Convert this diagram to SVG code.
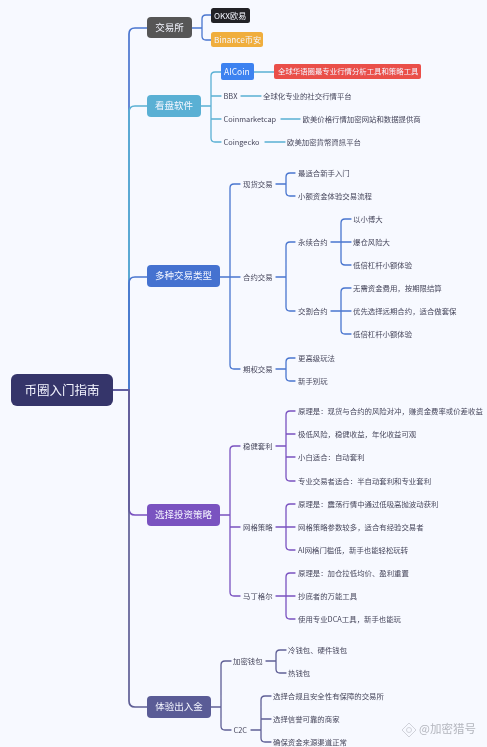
<svg xmlns="http://www.w3.org/2000/svg" width="487" height="747" viewBox="0 0 487 747">
<style>
text{font-family:"Noto Sans CJK SC","Noto Sans",sans-serif;font-size:7.4px;fill:#47475c;dominant-baseline:central;transform:translateY(-.7px)}
.m{font-size:9.500px;fill:#f4f6ff;text-anchor:middle}
.w{fill:#f4f6ff}
.x{font-size:8.200px}
.c{fill:none;stroke-width:1.3;stroke-linecap:round}
.t{stroke-width:1.7}
.b{stroke:#4a76cf}.k{stroke:#5ab0d4}.d{stroke:#4a76cf}.p{stroke:#7a52c0}.s{stroke:#5f5f96}
</style>
<defs><filter id="soft" x="0" y="0" width="100%" height="100%"><feGaussianBlur stdDeviation="0.35"/></filter></defs>
<rect width="487" height="747" fill="#f7f9ff"/>
<g filter="url(#soft)">
<g id="connectors">
<path class="c t b" d="M113 390H129V34Q129 28 135 28H147"/>
<path class="c t k" d="M113 390H129V112Q129 106 135 106H147"/>
<path class="c t d" d="M113 390H129V283Q129 277 135 277H147"/>
<path class="c t p" d="M113 390H129V509Q129 515 135 515H147"/>
<path class="c t s" d="M113 390H129V701Q129 707 135 707H147"/>
<path class="c b" d="M192 28H202M202 28V19Q202 15 206 15H211M202 28V36Q202 40 206 40H211"/>
<path class="c k" d="M201 106H211M211 106V76Q211 72 215 72H221M211 106V138Q211 142 215 142H221M211 96H221M211 119H221M254 72H274M241 96H261M281 119H300M265 142H285"/>
<path class="c d" d="M220 277H230M230 277V188Q230 184 234 184H240M230 277V365Q230 369 234 369H240M230 277H240M276 184H286M286 184V177Q286 173 290 173H295M286 184V192Q286 196 290 196H295M276 277H286M286 277V246Q286 242 290 242H295M286 277V307Q286 311 290 311H295M331 242H341M341 242V223Q341 219 345 219H351M341 242V261Q341 265 345 265H351M341 242H351M331 311H341M341 311V292Q341 288 345 288H351M341 311V330Q341 334 345 334H351M341 311H351M276 369H286M286 369V362Q286 358 290 358H295M286 369V377Q286 381 290 381H295"/>
<path class="c p" d="M220 515H230M230 515V450Q230 446 234 446H240M230 515V592Q230 596 234 596H240M230 527H240M276 446H286M286 446V415Q286 411 290 411H295M286 446V477Q286 481 290 481H295M286 434H295M286 457H295M276 527H286M286 527V508Q286 504 290 504H295M286 527V546Q286 550 290 550H295M286 527H295M276 596H286M286 596V577Q286 573 290 573H295M286 596V615Q286 619 290 619H295M286 596H295"/>
<path class="c s" d="M211 707H221M221 707V665Q221 661 225 661H231M221 707V726Q221 730 225 730H231M266 661H276M276 661V654Q276 650 280 650H286M276 661V669Q276 673 280 673H286M251 730H261M261 730V700Q261 696 265 696H271M261 730V738Q261 742 265 742H271M261 719H271"/>
</g>
<g id="root"><rect x="11" y="374" width="102" height="32" rx="6" fill="#36356b"/><text class="m" x="62" y="390" style="font-size:12.500px">币圈入门指南</text></g>
<g id="n1"><rect x="147" y="17" width="45" height="21" rx="4" fill="#565656"/><text class="m" x="169.500" y="28">交易所</text></g>
<g id="n1a"><rect x="211" y="8" width="39" height="15" rx="2.500" fill="#222226"/><text class="w x" x="214" y="15.500">OKX欧易</text></g>
<g id="n1b"><rect x="211" y="32" width="52" height="15" rx="2.500" fill="#f0ae3c"/><text class="w x" x="214" y="39.500">Binance币安</text></g>
<g id="n2"><rect x="147" y="95" width="54" height="22" rx="4" fill="#5ab0d4"/><text class="m" x="174" y="106">看盘软件</text></g>
<g id="n2a"><rect x="221" y="63" width="33" height="17" rx="2" fill="#3d82f0"/><text class="w" x="224" y="71.500" style="font-size:8.500px">AICoin</text></g>
<g id="n2a1"><rect x="274" y="64" width="147" height="15" rx="2" fill="#ea4f4a"/><text class="w" x="278" y="71.500">全球华语圈最专业行情分析工具和策略工具</text></g>
<g id="n2b"><text x="223.500" y="96">BBX</text><text x="263" y="96">全球化专业的社交行情平台</text></g>
<g id="n2c"><text x="223.500" y="119">Coinmarketcap</text><text x="302.500" y="119">欧美价格行情加密网站和数据提供商</text></g>
<g id="n2d"><text x="223.500" y="142">Coingecko</text><text x="287" y="142">欧美加密貨幣資訊平台</text></g>
<g id="n3"><rect x="147" y="265" width="73" height="22" rx="4" fill="#4472d0"/><text class="m" x="183.500" y="276">多种交易类型</text></g>
<g id="n3a"><text x="243" y="184">现货交易</text><text x="298" y="173">最适合新手入门</text><text x="298" y="196">小额资金体验交易流程</text></g>
<g id="n3b"><text x="243" y="277">合约交易</text><text x="298" y="242">永续合约</text><text x="298" y="311">交割合约</text>
<text x="353" y="219">以小博大</text><text x="353" y="242">爆仓风险大</text><text x="353" y="265">低倍杠杆小额体验</text>
<text x="353" y="288">无需资金费用，按期限结算</text><text x="353" y="311">优先选择远期合约，适合做套保</text><text x="353" y="334">低倍杠杆小额体验</text></g>
<g id="n3c"><text x="243" y="369">期权交易</text><text x="298" y="358">更高级玩法</text><text x="298" y="381">新手别玩</text></g>
<g id="n4"><rect x="147" y="504" width="73" height="22" rx="4" fill="#7a52c0"/><text class="m" x="183.500" y="515">选择投资策略</text></g>
<g id="n4a"><text x="243" y="446">稳健套利</text><text x="298" y="411">原理是：现货与合约的风险对冲，赚资金费率或价差收益</text><text x="298" y="434">极低风险，稳健收益，年化收益可观</text><text x="298" y="457">小白适合：自动套利</text><text x="298" y="481">专业交易者适合：半自动套利和专业套利</text></g>
<g id="n4b"><text x="243" y="527">网格策略</text><text x="298" y="504">原理是：震荡行情中通过低吸高抛波动获利</text><text x="298" y="527">网格策略参数较多，适合有经验交易者</text><text x="298" y="550">AI网格门槛低，新手也能轻松玩转</text></g>
<g id="n4c"><text x="243" y="596">马丁格尔</text><text x="298" y="573">原理是：加仓拉低均价、盈利重置</text><text x="298" y="596">抄底者的万能工具</text><text x="298" y="619">使用专业DCA工具，新手也能玩</text></g>
<g id="n5"><rect x="147" y="696" width="64" height="22" rx="4" fill="#5a5c96"/><text class="m" x="179" y="707">体验出入金</text></g>
<g id="n5a"><text x="233" y="661">加密钱包</text><text x="288" y="650">冷钱包、硬件钱包</text><text x="288" y="673">热钱包</text></g>
<g id="n5b"><text x="233.500" y="730">C2C</text><text x="273" y="696">选择合规且安全性有保障的交易所</text><text x="273" y="719">选择信誉可靠的商家</text><text x="273" y="742">确保资金来源渠道正常</text></g>
<g id="watermark"><path d="M409 723L416 730L409 737L402 730Z" fill="none" stroke="#d0d2da"/><circle cx="409" cy="730" r="2.500" fill="none" stroke="#d0d2da"/><text x="419" y="729" style="font-size:11.500px;fill:#b4b6be">@加密猎号</text></g>
</g>
</svg>
